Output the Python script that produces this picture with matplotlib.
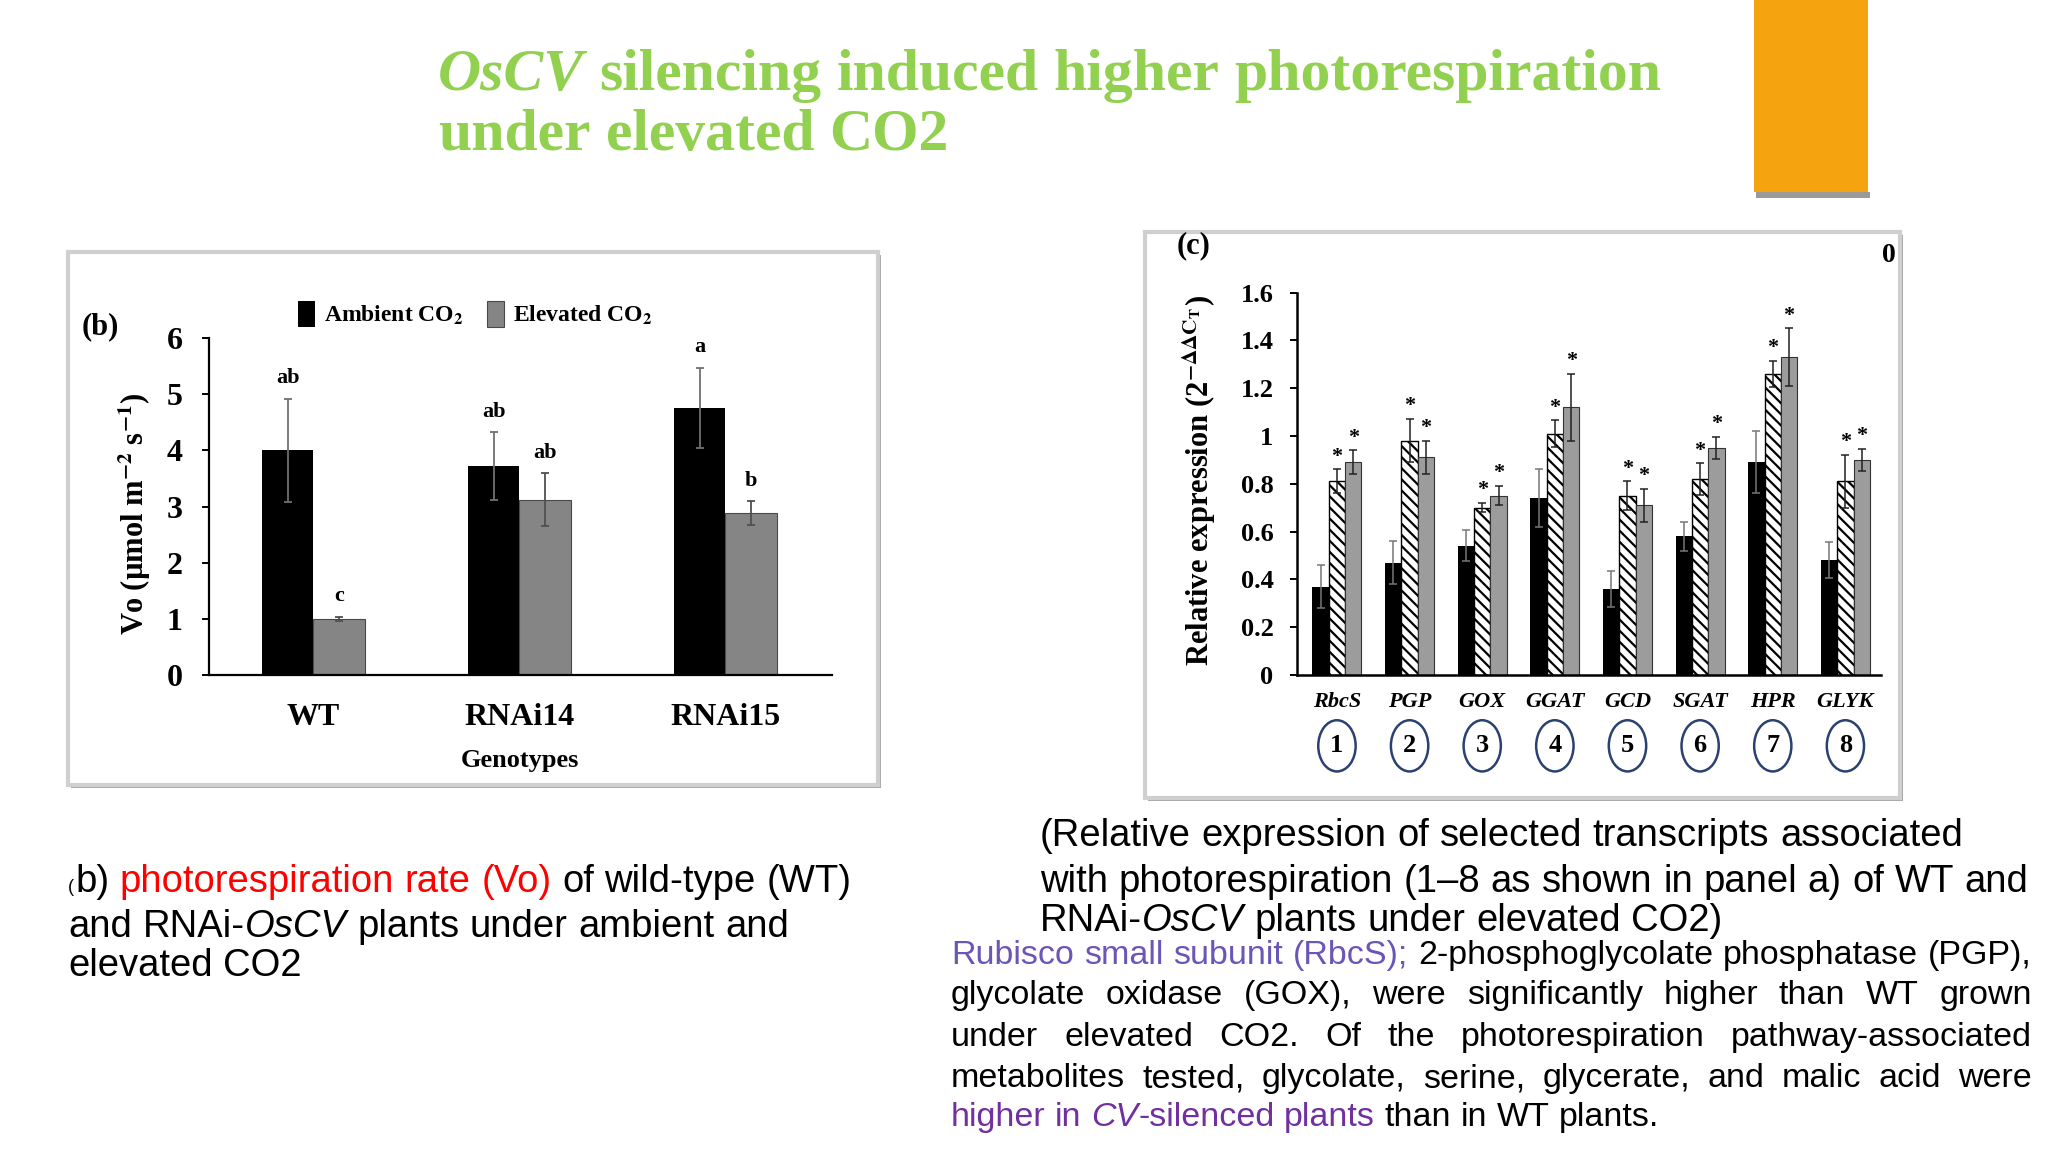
import matplotlib
matplotlib.use("Agg")
import matplotlib.pyplot as plt
import numpy as np
from matplotlib.patches import Rectangle

W, H = 2048, 1152

# ---- panel (b): photorespiration rate
genotypes = ["WT", "RNAi14", "RNAi15"]
vo_ambient = [4.0, 3.72, 4.75]
vo_ambient_err = [0.92, 0.6, 0.71]
vo_elevated = [1.0, 3.12, 2.88]
vo_elevated_err = [0.03, 0.47, 0.21]
letters_ambient = ["ab", "ab", "a"]
letters_elevated = ["c", "ab", "b"]
vo_ticks = [0, 1, 2, 3, 4, 5, 6]

# ---- panel (c): relative expression
genes = ["RbcS", "PGP", "GOX", "GGAT", "GCD", "SGAT", "HPR", "GLYK"]
gene_numbers = ["1", "2", "3", "4", "5", "6", "7", "8"]
expr_wt = [0.37, 0.47, 0.54, 0.74, 0.36, 0.58, 0.89, 0.48]
expr_wt_err = [0.09, 0.09, 0.065, 0.12, 0.075, 0.06, 0.13, 0.075]
expr_rnai14 = [0.81, 0.98, 0.70, 1.01, 0.75, 0.82, 1.26, 0.81]
expr_rnai14_err = [0.05, 0.09, 0.02, 0.055, 0.06, 0.065, 0.055, 0.11]
expr_rnai15 = [0.89, 0.91, 0.75, 1.12, 0.71, 0.95, 1.33, 0.90]
expr_rnai15_err = [0.05, 0.07, 0.04, 0.14, 0.07, 0.045, 0.12, 0.045]
expr_ticks = [0, 0.2, 0.4, 0.6, 0.8, 1.0, 1.2, 1.4, 1.6]
expr_tick_labels = ["0", "0.2", "0.4", "0.6", "0.8", "1", "1.2", "1.4", "1.6"]

GREEN = "#92d050"
ORANGE = "#f5a30f"
RED = "#ff0000"
PURPLE1 = "#6a55b8"
PURPLE2 = "#7030a0"
SERIF = "Liberation Serif"
SANS = "Liberation Sans"

# text as (text, colour, italic) segments, one list per line
title_lines = [
    [("OsCV", GREEN, True), (" silencing induced higher photorespiration", GREEN, False)],
    [("under elevated CO2", GREEN, False)],
]
left_lines = [
    [("b) ", "black", False), ("photorespiration rate (Vo)", RED, False), (" of wild-type (WT)", "black", False)],
    [("and RNAi-", "black", False), ("OsCV", "black", True), (" plants under ambient and", "black", False)],
    [("elevated CO2", "black", False)],
]
caption_lines = [
    [("(Relative expression of selected transcripts associated", "black", False)],
    [("with photorespiration (1\u20138 as shown in panel a) of WT and", "black", False)],
    [("RNAi-", "black", False), ("OsCV", "black", True), (" plants under elevated CO2)", "black", False)],
]
para_lines = [
    [("Rubisco small subunit (RbcS);", PURPLE1, False), (" 2-phosphoglycolate phosphatase (PGP),", "black", False)],
    [("glycolate oxidase (GOX), were significantly higher than WT grown", "black", False)],
    [("under elevated CO2. Of the photorespiration pathway-associated", "black", False)],
    [("metabolites tested, glycolate, serine, glycerate, and malic acid were", "black", False)],
    [("higher in ", PURPLE2, False), ("CV", PURPLE2, True), ("-silenced plants", PURPLE2, False),
     (" than in WT plants.", "black", False)],
]

plt.rcParams["mathtext.fontset"] = "stix"
plt.rcParams["hatch.linewidth"] = 1.6

fig = plt.figure(figsize=(20.48, 11.52), dpi=100)
fig.patch.set_facecolor("white")
renderer = fig.canvas.get_renderer()


def fx(px):
    return px / W


def fy(py):
    return 1 - py / H


def split_words(segments):
    words = [[]]
    for txt, color, italic in segments:
        parts = txt.split(" ")
        for k, part in enumerate(parts):
            if k > 0:
                words.append([])
            if part:
                words[-1].append((part, color, italic))
    return [w for w in words if w]


def draw_line(segments, x0, y_base, size, family, weight="normal", width=None):
    words = split_words(segments)
    made = []
    for word in words:
        pieces = []
        for txt, color, italic in word:
            t = fig.text(0, 0, txt, fontsize=size, family=family, color=color,
                         style="italic" if italic else "normal", weight=weight,
                         va="baseline", ha="left")
            pieces.append((t, t.get_window_extent(renderer).width))
        made.append(pieces)
    a = fig.text(0, 0, "x x", fontsize=size, family=family, weight=weight)
    b = fig.text(0, 0, "xx", fontsize=size, family=family, weight=weight)
    space = a.get_window_extent(renderer).width - b.get_window_extent(renderer).width
    a.remove()
    b.remove()
    total = sum(w for pieces in made for _, w in pieces)
    if width is not None and len(made) > 1:
        space = max((width - total) / (len(made) - 1), 0.4 * space)
    x = x0
    for pieces in made:
        for t, w in pieces:
            t.set_position((fx(x), fy(y_base)))
            x += w
        x += space


def panel_box(x0, y0, x1, y1):
    fig.patches.append(Rectangle((fx(x0 + 3), fy(y1 + 3)), fx(x1 - x0), (y1 - y0) / H,
                                 transform=fig.transFigure, facecolor="#a8a8a8",
                                 edgecolor="none", zorder=-3))
    fig.patches.append(Rectangle((fx(x0), fy(y1)), fx(x1 - x0), (y1 - y0) / H,
                                 transform=fig.transFigure, facecolor="white",
                                 edgecolor="#cfcfcf", lw=3, zorder=-2))


# ---- slide decorations
fig.patches.append(Rectangle((fx(1756), fy(198)), fx(114), 6 / H, transform=fig.transFigure,
                             facecolor="#9a9a9a", edgecolor="none", zorder=-3))
fig.patches.append(Rectangle((fx(1754), fy(192)), fx(114), 192 / H + 0.01,
                             transform=fig.transFigure, facecolor=ORANGE,
                             edgecolor="none", zorder=-2))

draw_line(title_lines[0], 438, 90, 43, SERIF, weight="bold")
draw_line(title_lines[1], 438, 150, 43, SERIF, weight="bold")

panel_box(68, 252, 878, 785)
panel_box(1145, 232, 1900, 798)

# ---- panel (b)
axb = fig.add_axes([fx(209), fy(675), fx(832 - 209), (675 - 338) / H])
axb.set_facecolor("none")
xb = np.arange(len(genotypes))
wb = 0.25
b1 = axb.bar(xb - wb / 2, vo_ambient, wb, color="black", yerr=vo_ambient_err,
             error_kw=dict(ecolor="#707070", lw=1.3, capsize=3, capthick=1.3),
             label="Ambient CO$_\\mathbf{2}$")
b2 = axb.bar(xb + wb / 2, vo_elevated, wb, color="#858585", edgecolor="#4a4a4a", lw=0.8,
             yerr=vo_elevated_err,
             error_kw=dict(ecolor="#505050", lw=1.3, capsize=3, capthick=1.3),
             label="Elevated CO$_\\mathbf{2}$")
for i in range(len(genotypes)):
    axb.annotate(letters_ambient[i], (xb[i] - wb / 2, vo_ambient[i] + vo_ambient_err[i]),
                 xytext=(0, 15), textcoords="offset points", ha="center", va="center",
                 fontsize=16, weight="bold", family=SERIF)
    axb.annotate(letters_elevated[i], (xb[i] + wb / 2, vo_elevated[i] + vo_elevated_err[i]),
                 xytext=(0, 15), textcoords="offset points", ha="center", va="center",
                 fontsize=16, weight="bold", family=SERIF)
axb.set_xlim(-0.507, 2.517)
axb.set_ylim(0, 6)
axb.set_yticks(vo_ticks)
axb.set_xticks(xb, genotypes)
for s in ["top", "right"]:
    axb.spines[s].set_visible(False)
for s in ["left", "bottom"]:
    axb.spines[s].set_linewidth(1.6)
axb.tick_params(axis="y", direction="out", length=5, width=1.4, pad=14, labelsize=23)
axb.tick_params(axis="x", length=0, pad=20, labelsize=23)
for lab in axb.get_xticklabels() + axb.get_yticklabels():
    lab.set_family(SERIF)
    lab.set_fontweight("bold")
fig.text(fx(135), fy(514), "Vo (\u00b5mol m$^{\\mathbf{-2}}$ s$^{\\mathbf{-1}}$)", fontsize=22,
         weight="bold", family=SERIF, rotation=90, ha="center", va="center")
axb.legend(handles=[b1, b2], ncol=2, loc="center left", frameon=False,
           bbox_to_anchor=(fx(277), fy(314)), bbox_transform=fig.transFigure,
           prop=dict(family=SERIF, weight="bold", size=17), handlelength=0.7,
           handleheight=1.3, handletextpad=0.4, columnspacing=1.0)
fig.text(fx(100), fy(327), "(b)", fontsize=22, weight="bold", family=SERIF,
         ha="center", va="center")
fig.text(fx(520), fy(761), "Genotypes", fontsize=19, weight="bold", family=SERIF,
         ha="center", va="center")

# ---- panel (c)
axc = fig.add_axes([fx(1297), fy(675), fx(1881 - 1297), (675 - 292.5) / H])
axc.set_facecolor("none")
xc = np.arange(len(genes))
wc = 0.225
ekw = dict(ecolor="#222222", lw=1.1, capsize=3, capthick=1.1)
axc.bar(xc - wc, expr_wt, wc, color="black", yerr=expr_wt_err,
        error_kw=dict(ecolor="#777777", lw=1.1, capsize=3, capthick=1.1))
axc.bar(xc, expr_rnai14, wc, color="white", edgecolor="black", lw=1.0,
        hatch="\\\\\\", yerr=expr_rnai14_err, error_kw=ekw)
axc.bar(xc + wc, expr_rnai15, wc, color="#9c9c9c", edgecolor="#333333", lw=0.8,
        yerr=expr_rnai15_err, error_kw=ekw)
for i in range(len(genes)):
    for off, val, err in [(0, expr_rnai14[i], expr_rnai14_err[i]),
                          (wc, expr_rnai15[i], expr_rnai15_err[i])]:
        axc.annotate("*", (xc[i] + off, val + err), xytext=(0, 2),
                     textcoords="offset points", ha="center", va="bottom",
                     fontsize=16, weight="bold", family=SERIF)
    axc.annotate(gene_numbers[i], (xc[i], 0), xycoords=axc.get_xaxis_transform(),
                 xytext=(0, -51), textcoords="offset points", ha="center", va="center",
                 fontsize=19, weight="bold", family=SERIF,
                 bbox=dict(boxstyle="ellipse,pad=0.25", fc="white", ec="#2b4170", lw=1.8))
axc.set_xlim(-0.55, 7.49)
axc.set_ylim(0, 1.6)
axc.set_yticks(expr_ticks, expr_tick_labels)
axc.set_xticks(xc, genes)
for s in ["top", "right"]:
    axc.spines[s].set_visible(False)
for s in ["left", "bottom"]:
    axc.spines[s].set_linewidth(1.8)
axc.tick_params(axis="y", direction="out", length=5, width=1.4, pad=12, labelsize=19)
axc.tick_params(axis="x", length=0, pad=12, labelsize=16)
for lab in axc.get_yticklabels():
    lab.set_family(SERIF)
    lab.set_fontweight("bold")
for lab in axc.get_xticklabels():
    lab.set_family(SERIF)
    lab.set_fontweight("bold")
    lab.set_fontstyle("italic")
fig.text(fx(1199), fy(480), "Relative expression (2$^{\\mathbf{-\\Delta\\Delta C_T}}$)",
         fontsize=22, weight="bold", family=SERIF, rotation=90, ha="center", va="center")
fig.text(fx(1194), fy(246), "(c)", fontsize=22, weight="bold", family=SERIF,
         ha="center", va="center")
fig.text(fx(1889), fy(256), "0", fontsize=20, weight="bold", family=SERIF,
         ha="center", va="center")

# ---- captions
fig.text(fx(68), fy(892), "(", fontsize=13, family=SANS, va="baseline")
draw_line(left_lines[0], 75, 892, 27.5, SANS)
draw_line(left_lines[1], 68, 937, 27.5, SANS)
draw_line(left_lines[2], 68, 976, 27.5, SANS)

for line, yb in zip(caption_lines, [846, 892, 931]):
    draw_line(line, 1040, yb, 27.5, SANS)
para_y = [964, 1004, 1046, 1087, 1126]
for k, (line, yb) in enumerate(zip(para_lines, para_y)):
    draw_line(line, 951, yb, 24.5, SANS, width=None if k == len(para_lines) - 1 else 2032 - 951)

fig.savefig("out.png", dpi=100, facecolor="white")
